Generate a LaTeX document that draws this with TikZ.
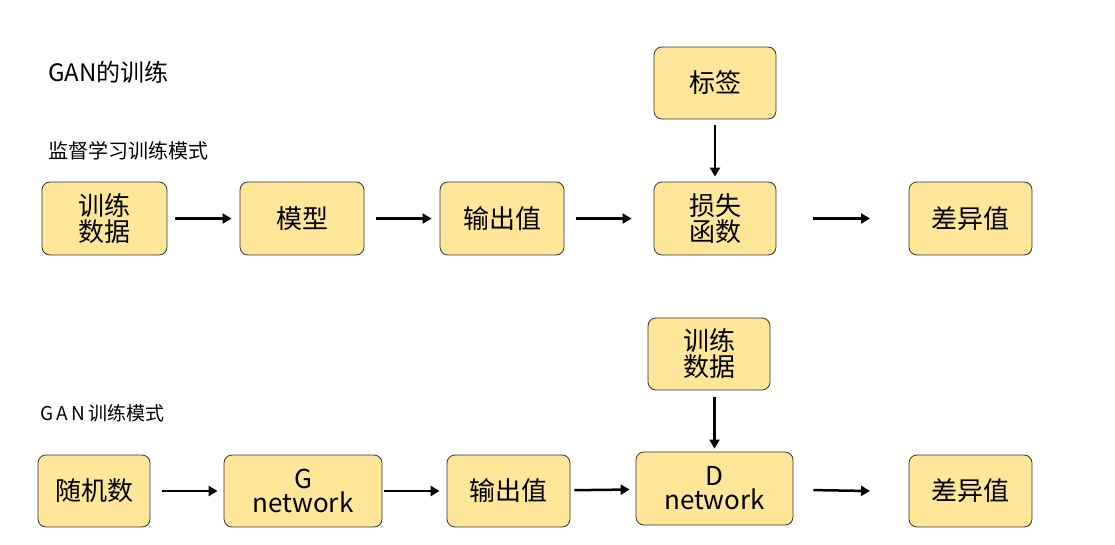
\documentclass[tikz,border=0pt]{standalone}
\usepackage{fontspec}
\setmainfont{Noto Sans CJK SC}
\usetikzlibrary{arrows.meta}
\tikzstyle{box}=[draw=black!80, fill={rgb,255:red,255;green,230;blue,153}, rounded corners=8pt, line width=0.8pt, align=center, font=\fontsize{26}{30}\selectfont, inner sep=0pt]
\tikzstyle{arrow}=[line width=2.5pt, -{Triangle[length=9pt,width=10pt]}]
\tikzstyle{title}=[anchor=west, inner sep=0pt]
\begin{document}
\begin{tikzpicture}[x=1pt, y=-1pt]
  \useasboundingbox (0,0) rectangle (1115,545);
  \node[title, font=\fontsize{24}{28}\selectfont] (t) at (48,72) {GAN的训练};
  \node[title, font=\fontsize{20}{24}\selectfont] (s1) at (48,151) {监督学习训练模式};
  \node[title, font=\fontsize{19}{24}\selectfont] (s2) at (40,413) {G\,A\,N\,训练模式};

  \node[box, minimum width=125pt, minimum height=73pt] (data) at (104.5,218.5) {训练\\[-4pt]数据};
  \node[box, minimum width=124pt, minimum height=73pt] (model) at (302,218.5) {模型};
  \node[box, minimum width=124pt, minimum height=73pt] (out) at (502,218.5) {输出值};
  \node[box, minimum width=122pt, minimum height=73pt] (loss) at (715,218.5) {损失\\[-4pt]函数};
  \node[box, minimum width=123pt, minimum height=73pt] (diff) at (970.5,218.5) {差异值};
  \node[box, minimum width=122pt, minimum height=72pt] (label) at (715,83) {标签};
  \coordinate (e1) at (870,218.5);

  \node[box, minimum width=112pt, minimum height=72pt] (noise) at (94,491) {随机数};
  \node[box, minimum width=158pt, minimum height=72pt] (G) at (303,491) {G\\[-6pt]network};
  \node[box, minimum width=123pt, minimum height=72pt] (out2) at (508.5,491) {输出值};
  \node[box, minimum width=157pt, minimum height=73pt] (D) at (714.5,488.5) {D\\[-6pt]network};
  \node[box, minimum width=123pt, minimum height=72pt] (diff2) at (970.5,491) {差异值};
  \node[box, minimum width=122pt, minimum height=72pt] (real) at (709,354) {训练\\[-4pt]数据};
  \coordinate (e2) at (870,491);

  \draw[arrow, shorten <=8pt, shorten >=8pt] (data) -- (model);
  \draw[arrow, shorten <=12pt, shorten >=8pt] (model) -- (out);
  \draw[arrow, shorten <=12pt, shorten >=22pt] (out) -- (loss);
  \draw[arrow, shorten <=37pt] (loss) -- (e1);
  \draw[arrow, shorten <=6pt, shorten >=5pt] (label) -- (loss);

  \draw[arrow, shorten <=12pt, shorten >=6pt] (noise) -- (G);
  \draw[arrow, shorten <=2pt, shorten >=7pt] (G) -- (out2);
  \draw[arrow, shorten <=4pt, shorten >=6pt] (out2) -- (D);
  \draw[arrow, shorten <=20pt] (D) -- (e2);
  \draw[arrow, shorten <=7pt, shorten >=3pt] (real.south -| D) -- (D);
\end{tikzpicture}
\end{document}
